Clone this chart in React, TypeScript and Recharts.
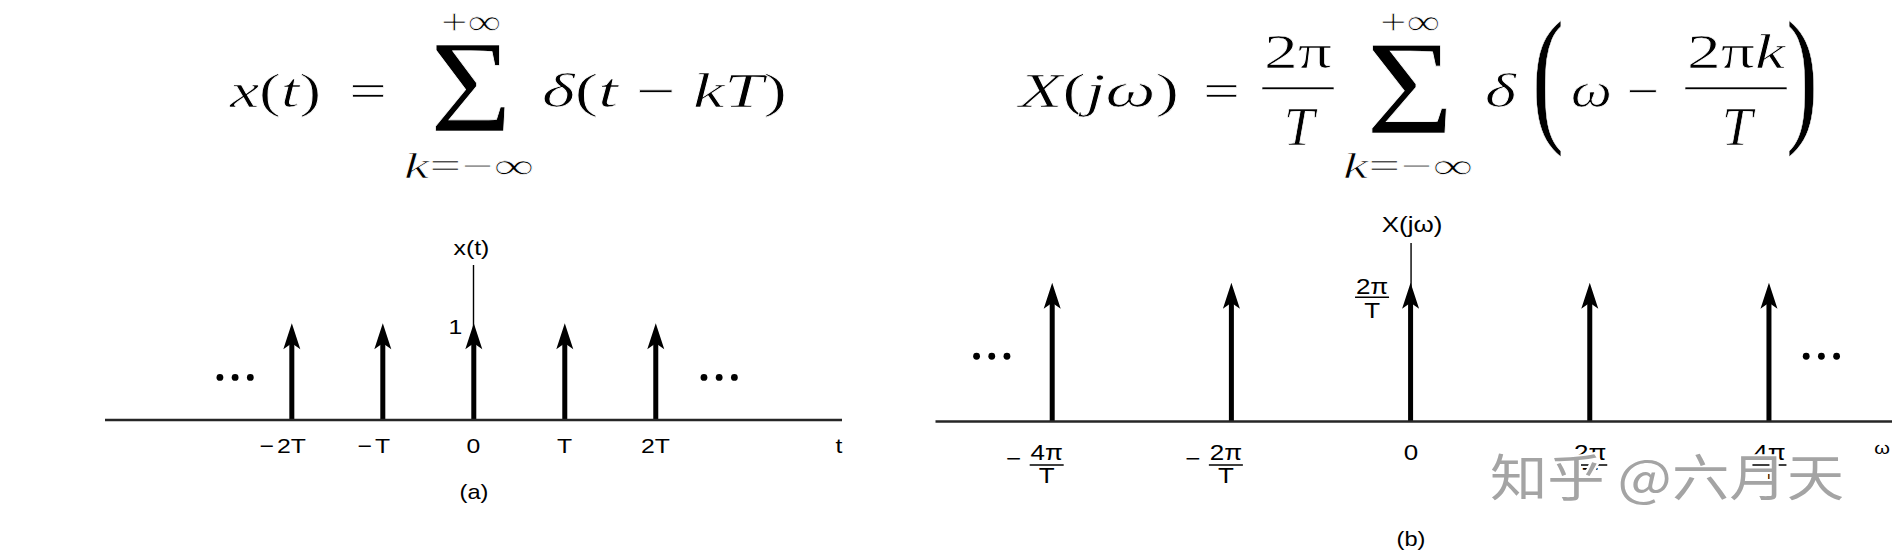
import React from 'react';
import {
  ComposedChart,
  Bar,
  Scatter,
  XAxis,
  YAxis,
  ReferenceLine,
  ReferenceDot,
} from 'recharts';

// ---- (a) time domain: impulse train x(t)
const timeShifts = [-2, -1, 0, 1, 2]; // multiples of T
const timeAmplitudes = [1, 1, 1, 1, 1];
const timeTickLabels = ['−2T', '−T', '0', 'T', '2T'];
const timeEllipsisX = [-2.62, 2.7];
const timeEllipsisY = [0.44, 0.44];

// ---- (b) frequency domain: X(jω)
const freqShifts = [-2, -1, 0, 1, 2]; // multiples of 2π/T
const freqAmplitudes = [1, 1, 1, 1, 1]; // in units of 2π/T
const freqTickLabels = ['−4π/T', '−2π/T', '0', '2π/T', '4π/T'];
const freqEllipsisX = [-2.34, 2.29];
const freqEllipsisY = [0.47, 0.47];

const timeData = timeShifts.map((x, i) => ({ x, amp: timeAmplitudes[i] }));
const freqData = freqShifts.map((x, i) => ({ x, amp: freqAmplitudes[i] }));
const timeDots = timeEllipsisX.map((x, i) => ({ x, y: timeEllipsisY[i] }));
const freqDots = freqEllipsisX.map((x, i) => ({ x, y: freqEllipsisY[i] }));

const SANS = '"Liberation Sans", Arial, sans-serif';
const SERIF = '"Liberation Serif", "Times New Roman", serif';
const SX = 1.18; // horizontal stretch of the figure lettering

const ImpulseArrow = (props: any) => {
  const { x, y, width, height } = props;
  if (height == null || width == null) return null;
  const cx = x + width / 2;
  const base = y + height;
  const head = 26;
  const half = 8.5;
  const notch = 6;
  const shaft = 5;
  return (
    <g>
      <rect x={cx - shaft / 2} y={y + head - notch - 1} width={shaft} height={base - (y + head - notch - 1)} fill="#000" />
      <path d={`M${cx},${y} L${cx + half},${y + head} L${cx},${y + head - notch} L${cx - half},${y + head} Z`} fill="#000" />
    </g>
  );
};

const EllipsisMark = (props: any) => {
  const { cx, cy } = props;
  return (
    <g>
      {[-15.2, 0, 15.2].map((d) => (
        <circle key={d} cx={cx + d} cy={cy} r={3.4} fill="#000" />
      ))}
    </g>
  );
};

// text stretched horizontally about its anchor point
const SText = ({ x, y, anchor = 'middle', size, children, family = SANS }: any) => (
  <g transform={`translate(${x},${y}) scale(${SX},1)`}>
    <text x={0} y={0} textAnchor={anchor} fontFamily={family} fontSize={size} fill="#000">
      {children}
    </text>
  </g>
);

const coreWidth = (s: string, fs: number) =>
  s.split('').reduce((w, c) => w + (c === 'T' ? 0.611 : 0.556) * fs, 0) * SX;

const TimeTick = (props: any) => {
  const { x, y, index } = props;
  const label = timeTickLabels[index] ?? '';
  const fs = 21;
  const neg = label.startsWith('−');
  const core = neg ? label.slice(1) : label;
  const half = coreWidth(core, fs) / 2;
  return (
    <g>
      <SText x={x} y={y + 33} size={fs}>{core}</SText>
      {neg && (
        <SText x={x - half - 3} y={y + 33} size={fs} anchor="end">−</SText>
      )}
    </g>
  );
};

const FreqTick = (props: any) => {
  const { x, y, index } = props;
  const label = freqTickLabels[index] ?? '';
  const fs = 22;
  if (!label.includes('/')) {
    return <SText x={x} y={y + 38.5} size={fs}>{label}</SText>;
  }
  const neg = label.startsWith('−');
  const [num, den] = label.replace('−', '').split('/');
  const fx = neg ? x - 6 : x;
  return (
    <g>
      {neg && <SText x={x - 39} y={y + 44} size={fs}>−</SText>}
      <SText x={fx} y={y + 38.5} size={fs}>{num}</SText>
      <line x1={fx - 17} x2={fx + 17} y1={y + 43.5} y2={y + 43.5} stroke="#000" strokeWidth={1.6} />
      <SText x={fx} y={y + 61.5} size={fs}>{den}</SText>
    </g>
  );
};

const TimeChart = () => (
  <div style={{ position: 'absolute', left: 0, top: 0 }}>
    <ComposedChart
      width={946}
      height={553}
      data={timeData}
      margin={{ top: 265, right: 104, bottom: 93, left: 105 }}
    >
      <XAxis
        dataKey="x"
        type="number"
        domain={[-4.05, 4.05]}
        ticks={timeShifts}
        interval={0}
        tickLine={false}
        tickSize={0}
        tickMargin={0}
        height={40}
        axisLine={{ stroke: '#262626', strokeWidth: 2.6 }}
        tick={<TimeTick />}
        allowDataOverflow
        label={{
          content: (p: any) => {
            const vb = p.viewBox;
            return <SText x={vb.x + vb.width - 3} y={vb.y + 33} size={21}>t</SText>;
          },
        }}
      />
      <YAxis hide type="number" domain={[0, 1.6]} allowDataOverflow />
      <ReferenceLine
        x={0}
        stroke="#000"
        strokeWidth={1.4}
        label={{
          content: (p: any) => {
            const vb = p.viewBox;
            return <SText x={vb.x - 2} y={vb.y - 10} size={21}>x(t)</SText>;
          },
        }}
      />
      <Bar dataKey="amp" barSize={17} shape={<ImpulseArrow />} isAnimationActive={false} />
      <Scatter data={timeDots} dataKey="y" shape={<EllipsisMark />} isAnimationActive={false} />
      <ReferenceDot
        x={0}
        y={1}
        r={1}
        fill="none"
        stroke="none"
        label={{
          content: (p: any) => {
            const vb = p.viewBox;
            const cx = vb.x + vb.width / 2;
            const cy = vb.y + vb.height / 2;
            return <SText x={cx - 18} y={cy + 11} size={21}>1</SText>;
          },
        }}
      />
    </ComposedChart>
  </div>
);

const FreqChart = () => (
  <div style={{ position: 'absolute', left: 900, top: 0 }}>
    <ComposedChart
      width={992}
      height={553}
      data={freqData}
      margin={{ top: 243, right: 0, bottom: 91.5, left: 35.5 }}
    >
      <XAxis
        dataKey="x"
        type="number"
        domain={[-2.654, 2.684]}
        ticks={freqShifts}
        interval={0}
        tickLine={false}
        tickSize={0}
        tickMargin={0}
        height={40}
        axisLine={{ stroke: '#262626', strokeWidth: 2.6 }}
        tick={<FreqTick />}
        allowDataOverflow
        label={{
          content: (p: any) => {
            const vb = p.viewBox;
            return <SText x={vb.x + vb.width - 10} y={vb.y + 32} size={17}>ω</SText>;
          },
        }}
      />
      <YAxis hide type="number" domain={[0, 1.286]} allowDataOverflow />
      <ReferenceLine
        x={0}
        stroke="#000"
        strokeWidth={1.4}
        label={{
          content: (p: any) => {
            const vb = p.viewBox;
            return <SText x={vb.x + 1} y={vb.y - 11} size={22}>X(jω)</SText>;
          },
        }}
      />
      <Bar dataKey="amp" barSize={17} shape={<ImpulseArrow />} isAnimationActive={false} />
      <Scatter data={freqDots} dataKey="y" shape={<EllipsisMark />} isAnimationActive={false} />
      <ReferenceDot
        x={0}
        y={1}
        r={1}
        fill="none"
        stroke="none"
        label={{
          content: (p: any) => {
            const vb = p.viewBox;
            const cx = vb.x + vb.width / 2;
            const cy = vb.y + vb.height / 2;
            const fx = cx - 39;
            return (
              <g>
                <SText x={fx} y={cy + 11} size={22}>2π</SText>
                <line x1={fx - 17} x2={fx + 17} y1={cy + 14.5} y2={cy + 14.5} stroke="#000" strokeWidth={1.6} />
                <SText x={fx} y={cy + 35} size={22}>T</SText>
              </g>
            );
          },
        }}
      />
    </ComposedChart>
  </div>
);

const Overlay = () => (
  <svg
    width={1892}
    height={553}
    style={{ position: 'absolute', left: 0, top: 0, pointerEvents: 'none' }}
  >
    <g fontFamily={SERIF} fill="#000" stroke="#fff" strokeWidth={0.7} paintOrder="fill">
      {/* left equation */}
      <text x={230} y={107} fontSize={48} textLength={91} lengthAdjust="spacingAndGlyphs">
        <tspan fontStyle="italic">x</tspan>(<tspan fontStyle="italic">t</tspan>)
      </text>
      <text x={349} y={107} fontSize={48} textLength={38} lengthAdjust="spacingAndGlyphs">=</text>
      <text x={430} y={131} fontSize={132} textLength={82} lengthAdjust="spacingAndGlyphs">Σ</text>
      <text x={441} y={34} fontSize={36} textLength={60} lengthAdjust="spacingAndGlyphs">+∞</text>
      <text x={404} y={178} fontSize={36} textLength={130} lengthAdjust="spacingAndGlyphs">
        <tspan fontStyle="italic">k</tspan>=−∞
      </text>
      <text x={542} y={107} fontSize={48} textLength={245} lengthAdjust="spacingAndGlyphs">
        <tspan fontStyle="italic">δ</tspan>(<tspan fontStyle="italic">t</tspan> − <tspan fontStyle="italic">kT</tspan>)
      </text>

      {/* right equation */}
      <text x={1019} y={107} fontSize={48} textLength={160} lengthAdjust="spacingAndGlyphs">
        <tspan fontStyle="italic">X</tspan>(<tspan fontStyle="italic">jω</tspan>)
      </text>
      <text x={1203} y={107} fontSize={48} textLength={37} lengthAdjust="spacingAndGlyphs">=</text>
      <text x={1264} y={68} fontSize={48} textLength={68} lengthAdjust="spacingAndGlyphs">2π</text>
      <rect x={1262} y={87} width={72} height={2.6} />
      <text x={1299} y={145} fontSize={55} textAnchor="middle" fontStyle="italic">T</text>
      <text x={1366} y={133} fontSize={134} textLength={88} lengthAdjust="spacingAndGlyphs">Σ</text>
      <text x={1380} y={34} fontSize={36} textLength={60} lengthAdjust="spacingAndGlyphs">+∞</text>
      <text x={1343} y={178} fontSize={36} textLength={130} lengthAdjust="spacingAndGlyphs">
        <tspan fontStyle="italic">k</tspan>=−∞
      </text>
      <text x={1485} y={107} fontSize={48} fontStyle="italic" textLength={31} lengthAdjust="spacingAndGlyphs">δ</text>
      <text x={1532} y={125} fontSize={150} textLength={32} lengthAdjust="spacingAndGlyphs">(</text>
      <text x={1571} y={107} fontSize={48} textLength={88} lengthAdjust="spacingAndGlyphs">
        <tspan fontStyle="italic">ω</tspan> −
      </text>
      <text x={1687} y={68} fontSize={48} textLength={98} lengthAdjust="spacingAndGlyphs">
        2π<tspan fontStyle="italic">k</tspan>
      </text>
      <rect x={1685} y={87} width={102} height={2.6} />
      <text x={1737} y={145} fontSize={55} textAnchor="middle" fontStyle="italic">T</text>
      <text x={1786} y={125} fontSize={150} textLength={32} lengthAdjust="spacingAndGlyphs">)</text>
    </g>

    {/* captions */}
    <SText x={474} y={499} size={20}>(a)</SText>
    <SText x={1411} y={546} size={20}>(b)</SText>

    {/* watermark */}
    <text
      x={1490}
      y={496}
      fontFamily='"Noto Sans CJK SC", sans-serif'
      fontSize={50}
      textLength={354}
      lengthAdjust="spacingAndGlyphs"
      fill="#a4a4a4"
      stroke="#ffffff"
      strokeWidth={4}
      paintOrder="stroke"
    >
      知乎 @六月天
    </text>
  </svg>
);

export default function App() {
  return (
    <div
      style={{
        position: 'absolute',
        left: 0,
        top: 0,
        width: 1892,
        height: 553,
        background: '#fff',
        overflow: 'hidden',
      }}
    >
      <TimeChart />
      <FreqChart />
      <Overlay />
    </div>
  );
}
